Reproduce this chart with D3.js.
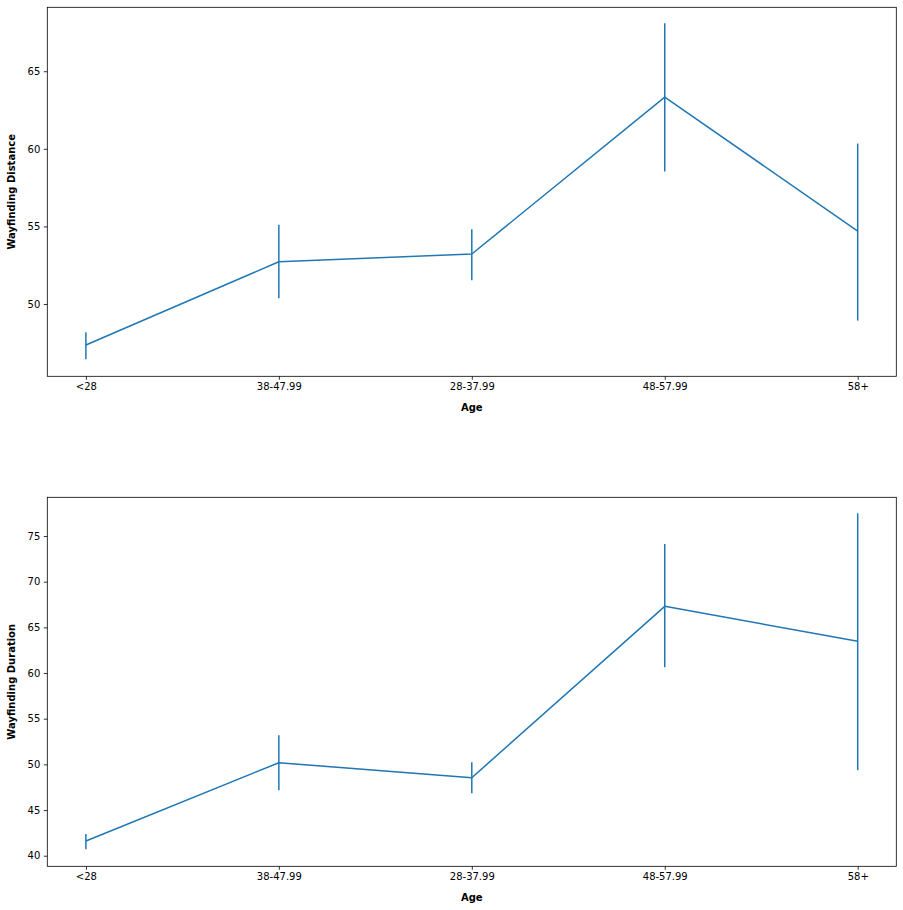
<!DOCTYPE html>
<html>
<head>
<meta charset="utf-8">
<script src="https://cdn.jsdelivr.net/npm/d3@7"></script>
<style>
  body { margin: 0; background: #fff; }
  svg { display: block; font-family: "DejaVu Sans", sans-serif; }
  .axis text { font-family: "DejaVu Sans", sans-serif; font-size: 10px; fill: #000; }
  .axis path, .axis line { stroke: #000; stroke-width: 0.8; }
  .label { font-family: "DejaVu Sans", sans-serif; font-size: 10px; font-weight: bold; fill: #000; }
</style>
</head>
<body>
<div id="chart"></div>
<script>
var ageGroups = ["<28", "38-47.99", "28-37.99", "48-57.99", "58+"];

// wayfinding distance: mean and error bar ends per age group
var distanceMean = [47.36, 52.72, 53.22, 63.33, 54.70];
var distanceLow  = [46.44, 50.37, 51.53, 58.54, 48.93];
var distanceHigh = [48.18, 55.10, 54.81, 68.09, 60.34];
var distanceTicks = [50, 55, 60, 65];

// wayfinding duration
var durationMean = [41.61, 50.18, 48.54, 67.30, 63.47];
var durationLow  = [40.70, 47.16, 46.83, 60.62, 49.35];
var durationHigh = [42.38, 53.18, 50.23, 74.13, 77.49];
var durationTicks = [40, 45, 50, 55, 60, 65, 70, 75];

var width = 903, height = 910;
var lineColor = "#1f77b4";

var svg = d3.select("#chart").append("svg")
    .attr("width", width)
    .attr("height", height);

function drawPanel(top, bottom, yDomain, ticks, means, lows, highs, yLabel) {
    var left = 47.3, right = 896.3;

    var x = d3.scalePoint().domain(ageGroups).range([left, right]).padding(0.2);
    var y = d3.scaleLinear().domain(yDomain).range([bottom, top]);

    var g = svg.append("g");

    var rows = ageGroups.map(function(a, i) {
        return { age: a, mean: means[i], low: lows[i], high: highs[i] };
    });

    // error bars
    g.selectAll("line.err").data(rows).enter().append("line")
        .attr("class", "err")
        .attr("x1", function(d) { return x(d.age); })
        .attr("x2", function(d) { return x(d.age); })
        .attr("y1", function(d) { return y(d.low); })
        .attr("y2", function(d) { return y(d.high); })
        .attr("stroke", lineColor)
        .attr("stroke-width", 1.5);

    g.append("path")
        .datum(rows)
        .attr("fill", "none")
        .attr("stroke", lineColor)
        .attr("stroke-width", 1.5)
        .attr("stroke-linejoin", "round")
        .attr("d", d3.line()
            .x(function(d) { return x(d.age); })
            .y(function(d) { return y(d.mean); }));

    // frame
    g.append("rect")
        .attr("x", left)
        .attr("y", top)
        .attr("width", right - left)
        .attr("height", bottom - top)
        .attr("fill", "none")
        .attr("stroke", "#000")
        .attr("stroke-width", 0.8);

    g.append("g")
        .attr("class", "axis")
        .attr("transform", "translate(0," + bottom + ")")
        .call(d3.axisBottom(x).tickSize(3.5).tickPadding(3.5).tickSizeOuter(0))
        .call(function(a) { a.select(".domain").remove(); });

    g.append("g")
        .attr("class", "axis")
        .attr("transform", "translate(" + left + ",0)")
        .call(d3.axisLeft(y).tickValues(ticks).tickSize(3.5).tickPadding(3.5))
        .call(function(a) { a.select(".domain").remove(); });

    g.append("text")
        .attr("class", "label")
        .attr("x", (left + right) / 2)
        .attr("y", bottom + 34.7)
        .attr("text-anchor", "middle")
        .text("Age");

    g.append("text")
        .attr("class", "label")
        .attr("transform", "translate(14.6," + ((top + bottom) / 2) + ") rotate(-90)")
        .attr("text-anchor", "middle")
        .text(yLabel);
}

drawPanel(7.3, 376.3, [45.34, 69.12], distanceTicks,
    distanceMean, distanceLow, distanceHigh, "Wayfinding Distance");
drawPanel(497.3, 866.3, [38.84, 79.24], durationTicks,
    durationMean, durationLow, durationHigh, "Wayfinding Duration");
</script>
</body>
</html>
